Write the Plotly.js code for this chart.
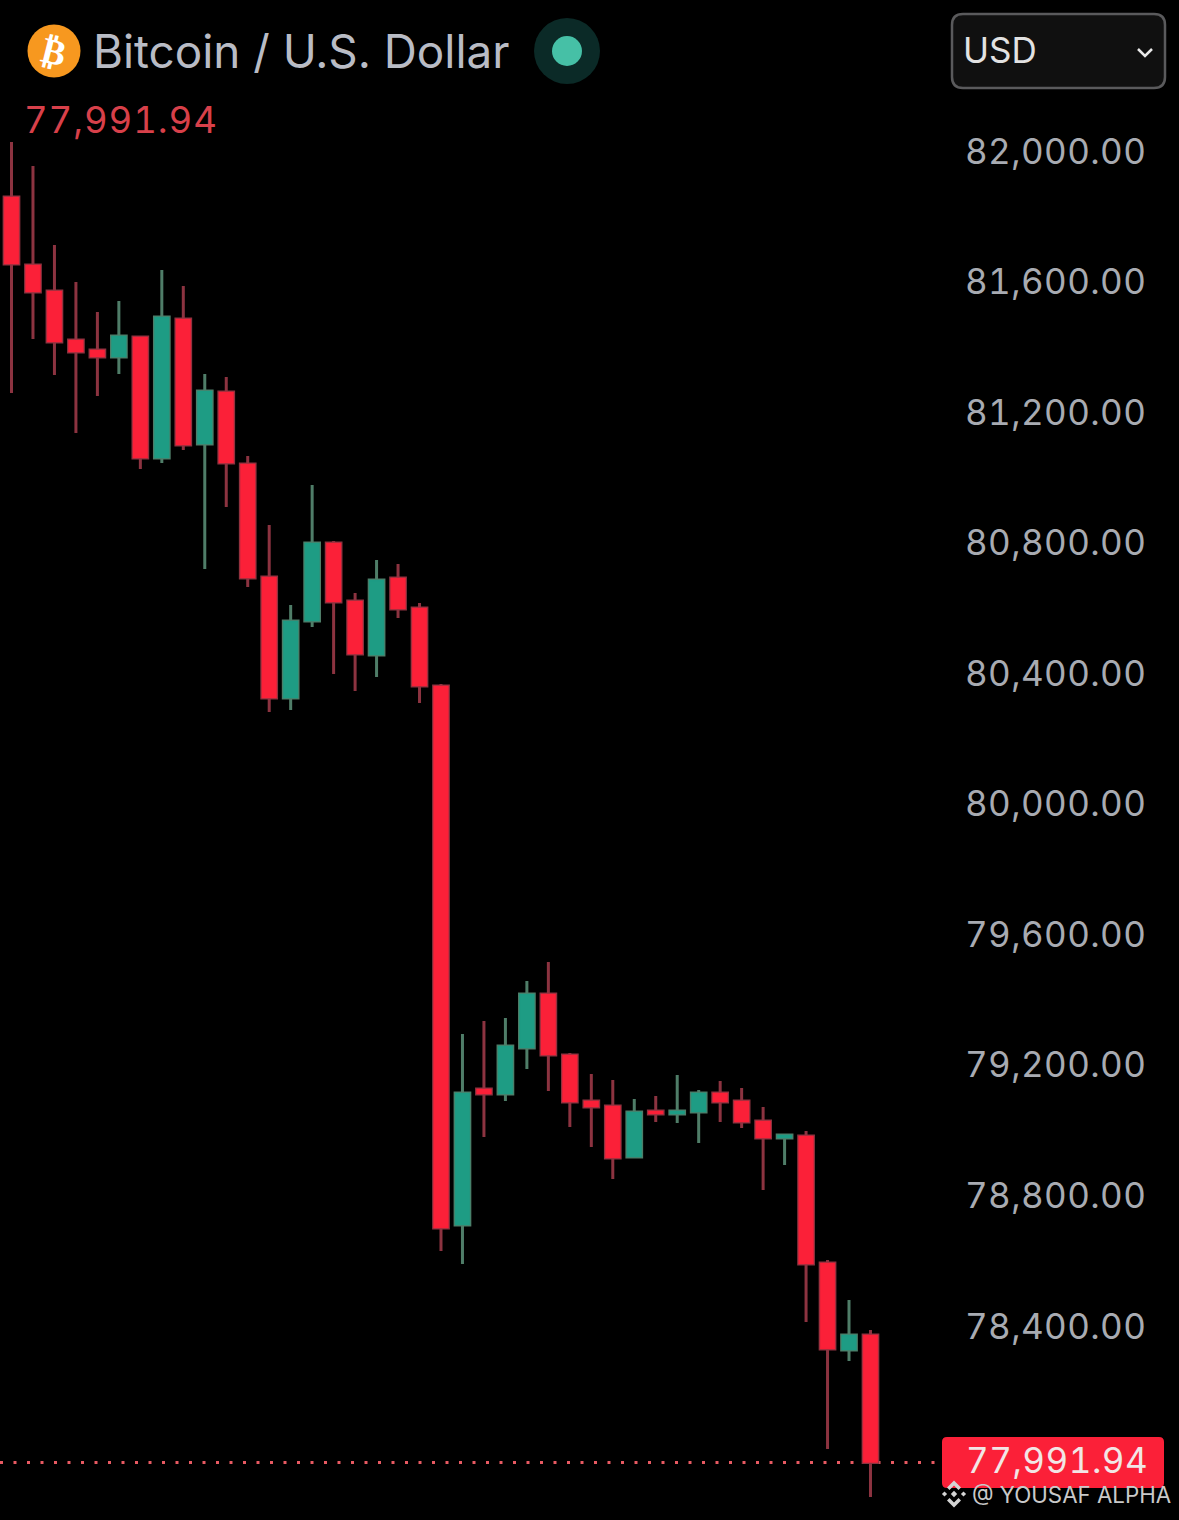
<!DOCTYPE html>
<html><head><meta charset="utf-8">
<script src="https://cdn.plot.ly/plotly-3.0.1.min.js"></script>
<style>
html,body{margin:0;padding:0;background:#000;}
#chart{width:1179px;height:1520px;}
.ytick text{font-feature-settings:"tnum" 1;letter-spacing:0.4px;}
</style></head><body><div id="chart"></div>
<script>
const openPrices = [81869.2,81660.9,81581.2,81431.1,81400.5,81379.0,81440.3,81069.6,81495.4,81112.5,81271.8,81051.2,80705.0,80334.2,80570.2,80809.1,80631.4,80466.0,80701.9,80610.0,80371.0,78719.6,79136.3,79121.0,79261.9,79427.3,79240.5,79099.5,79084.2,78928.0,79068.9,79059.7,79065.8,79124.0,79099.5,79038.2,78986.2,78992.3,78603.2,78336.6,78382.6];
const highPrices = [82037.7,81964.2,81722.2,81608.8,81516.9,81550.6,81443.0,81645.6,81596.5,81326.9,81317.7,81075.7,80864.3,80619.2,80986.8,80815.3,80655.9,80757.1,80744.8,80625.3,80377.1,79304.8,79344.6,79353.8,79467.2,79525.4,79246.6,79182.3,79163.9,79105.7,79114.8,79179.2,79133.2,79160.8,79139.4,79081.1,78995.4,79007.6,78612.4,78489.8,78397.9];
const lowPrices = [81268.7,81434.2,81323.9,81146.2,81259.5,81326.9,81035.9,81054.2,81094.1,80729.5,80919.4,80674.3,80291.4,80297.5,80551.8,80407.8,80355.7,80398.6,80579.3,80318.9,78639.9,78600.1,78989.2,79099.5,79197.6,79130.2,79019.8,78958.6,78860.5,78925.0,79035.2,79032.1,78970.8,79035.2,79016.8,78826.8,78903.4,78422.4,78033.3,78302.9,77886.2];
const closePrices = [81663.9,81578.2,81425.0,81394.3,81379.0,81443.3,81069.6,81501.6,81109.4,81274.8,81054.2,80701.9,80334.2,80570.2,80809.1,80628.4,80469.1,80695.8,80606.9,80371.0,78710.4,79124.0,79121.0,79268.0,79427.3,79240.5,79096.5,79081.1,78924.9,79065.8,79059.7,79068.9,79124.0,79096.5,79035.2,78986.2,78995.4,78600.1,78339.7,78382.6,77991.94];
const candleIndex = openPrices.map((_, i) => i);
const lastPrice = 77991.94;
const tickValues = [82000,81600,81200,80800,80400,80000,79600,79200,78800,78400];
const tickLabels = ["82,000.00","81,600.00","81,200.00","80,800.00","80,400.00","80,000.00","79,600.00","79,200.00","78,800.00","78,400.00"];

const W = 942, H = 1520;
const px = x => x / W;
const py = y => 1 - y / H;
const P = (x, y) => px(x) + ',' + py(y);
function circle(cx, cy, r, fill) {
  return {type:'circle', xref:'paper', yref:'paper', x0:px(cx-r), x1:px(cx+r), y0:py(cy+r), y1:py(cy-r),
          fillcolor:fill, line:{width:0}, layer:'above'};
}
function roundRect(x0, y0, x1, y1, r, fill, stroke, sw) {
  const d = 'M ' + P(x0+r,y0) + ' L ' + P(x1-r,y0) + ' Q ' + P(x1,y0) + ' ' + P(x1,y0+r) +
    ' L ' + P(x1,y1-r) + ' Q ' + P(x1,y1) + ' ' + P(x1-r,y1) + ' L ' + P(x0+r,y1) +
    ' Q ' + P(x0,y1) + ' ' + P(x0,y1-r) + ' L ' + P(x0,y0+r) + ' Q ' + P(x0,y0) + ' ' + P(x0+r,y0) + ' Z';
  return {type:'path', xref:'paper', yref:'paper', path:d, fillcolor:fill, line:{color:stroke||fill, width:sw||0}, layer:'above'};
}
function poly(points, fill) {
  const d = points.map((p,i) => (i ? 'L ' : 'M ') + P(p[0],p[1])).join(' ') + ' Z';
  return {type:'path', xref:'paper', yref:'paper', path:d, fillcolor:fill, line:{width:0}, layer:'above'};
}
function diamond(cx, cy, r, fill) {
  return poly([[cx,cy-r],[cx+r,cy],[cx,cy+r],[cx-r,cy]], fill);
}
function label(x, y, text, size, color, anchor, extra) {
  return Object.assign({xref:'paper', yref:'paper', x:px(x), y:py(y), text:text, showarrow:false,
    xanchor:anchor||'left', yanchor:'middle', font:{family:'Inter, Roboto, sans-serif', size:size, color:color}}, extra||{});
}

const wicks = {
  type:'candlestick', x:candleIndex, open:openPrices, high:highPrices, low:lowPrices, close:closePrices,
  whiskerwidth:0, hoverinfo:'skip', showlegend:false,
  increasing:{line:{color:'#4f7d68', width:3}, fillcolor:'#4f7d68'},
  decreasing:{line:{color:'#8c3340', width:3}, fillcolor:'#8c3340'}
};
const bodies = {
  type:'candlestick', x:candleIndex, open:openPrices, close:closePrices,
  high:openPrices.map((o,i)=>Math.max(o,closePrices[i])),
  low:openPrices.map((o,i)=>Math.min(o,closePrices[i])),
  whiskerwidth:0, hoverinfo:'skip', showlegend:false,
  increasing:{line:{color:'#1e9c84', width:0.5}, fillcolor:'#1e9c84'},
  decreasing:{line:{color:'#fb2038', width:0.5}, fillcolor:'#fb2038'}
};

const iconX = 954, iconY = 1494, iconFill = '#d4d4d4';
const layout = {
  width:1179, height:1520, paper_bgcolor:'#000', plot_bgcolor:'#000',
  margin:{l:0, r:237, t:0, b:0, pad:0}, showlegend:false, boxgap:0.02,
  xaxis:{type:'linear', range:[-0.5355,43.33], visible:false, rangeslider:{visible:false}, fixedrange:true},
  yaxis:{side:'right', range:[77815.7,82472.8], tickmode:'array', tickvals:tickValues, ticktext:tickLabels,
         showgrid:false, zeroline:false, showline:false, ticks:'', ticklabelstandoff:22, ticklabelshift:-3,
         tickfont:{family:'Inter, Roboto, sans-serif', size:35, color:'#a8abb2'}, fixedrange:true},
  shapes:[
    {type:'line', xref:'paper', yref:'y', x0:0, x1:1, y0:lastPrice, y1:lastPrice, layer:'below',
     line:{color:'#e85a62', width:3, dash:'3px,10.5px'}},
    circle(54,51,26.5,'#f7981f'),
    circle(567,51,33,'#0b2a27'),
    circle(567,51,15,'#46c0a6'),
    roundRect(952,14,1165,88,11,'#101010','#5a5a5c',2.5),
    {type:'path', xref:'paper', yref:'paper', path:'M '+P(1138,49)+' L '+P(1145,56)+' L '+P(1152,49), line:{color:'#e8e8e8',width:2.5}, layer:'above'},
    roundRect(942,1437,1164,1488,5,'#fb2038'),
    diamond(iconX,iconY,3.2,iconFill),
    diamond(iconX-9.5,iconY,2.6,iconFill),
    diamond(iconX+9.5,iconY,2.6,iconFill),
    poly([[iconX,iconY-13.5],[iconX+7,iconY-6.5],[iconX+4.5,iconY-4],[iconX,iconY-8.5],[iconX-4.5,iconY-4],[iconX-7,iconY-6.5]],iconFill),
    poly([[iconX,iconY+13.5],[iconX+7,iconY+6.5],[iconX+4.5,iconY+4],[iconX,iconY+8.5],[iconX-4.5,iconY+4],[iconX-7,iconY+6.5]],iconFill)
  ],
  annotations:[
    label(91,51,'Bitcoin / U.S. Dollar',45.8,'#b9bcc5'),
    label(54,51,'<b>₿</b>',36,'#ffffff','center',{textangle:14,font:{family:'DejaVu Sans',size:36,color:'#ffffff'}}),
    label(22,120,'<span style="font-feature-settings:\'tnum\' 1;letter-spacing:0.9px">77,991.94</span>',36.6,'#d8404a'),
    label(961,50,'USD',35,'#e2e2e2'),
    label(964,1460,'<span style="font-feature-settings:\'tnum\' 1;letter-spacing:0.5px">77,991.94</span>',35,'#f2e6e6'),
    label(970,1494,'@ YOUSAF ALPHA',22.3,'#c9c9c9')
  ]
};
Plotly.newPlot('chart',[wicks,bodies],layout,{displayModeBar:false,staticPlot:true}).then(()=>{
  document.querySelectorAll('.annotation-text').forEach(t=>{
    if(t.textContent.indexOf('77,991.94')>=0){t.style.fontFeatureSettings='"tnum" 1';t.style.letterSpacing='0.4px';}
  });
});
</script></body></html>
